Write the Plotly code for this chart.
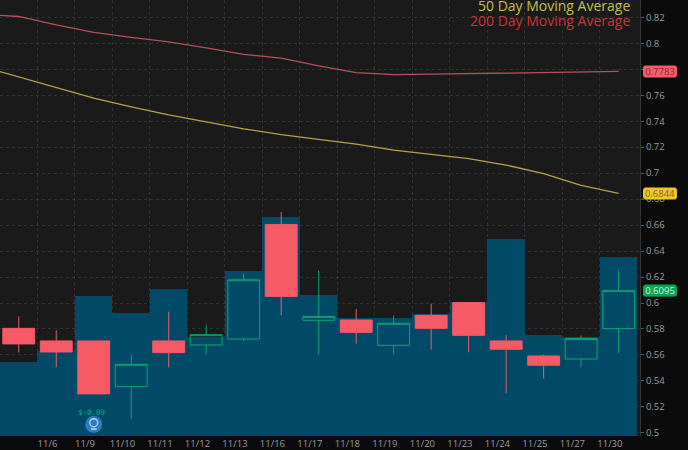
import plotly.graph_objects as go

dates = ["11/5", "11/6", "11/9", "11/10", "11/11", "11/12", "11/13", "11/16", "11/17",
         "11/18", "11/19", "11/20", "11/23", "11/24", "11/25", "11/27", "11/30"]
opens = [0.5805, 0.5708, 0.5708, 0.5356, 0.5708, 0.5677, 0.5723, 0.6605, 0.5867,
         0.5869, 0.5674, 0.5905, 0.6003, 0.5708, 0.5592, 0.5569, 0.5803]
closes = [0.5685, 0.5623, 0.5300, 0.5528, 0.5618, 0.5756, 0.6179, 0.6051, 0.5897,
          0.5774, 0.5844, 0.5805, 0.5751, 0.5644, 0.5521, 0.5726, 0.6095]
highs = [0.5897, 0.5790, 0.5708, 0.5603, 0.5933, 0.5831, 0.6226, 0.6700, 0.6251,
         0.5954, 0.5903, 0.5995, 0.6003, 0.5751, 0.5603, 0.5751, 0.6256]
lows = [0.5620, 0.5505, 0.5300, 0.5103, 0.5505, 0.5603, 0.5705, 0.5903, 0.5603,
        0.5687, 0.5603, 0.5641, 0.5621, 0.5303, 0.5418, 0.5505, 0.5615]
volumes = [221, 255, 419, 368, 443, 297, 497, 658, 424, 353, 353, 367, 401, 592, 303, 297, 538]
ma_index = list(range(-1, 17))
ma50 = [0.7822, 0.7741, 0.7658, 0.7578, 0.7510, 0.7448, 0.7395, 0.7341, 0.7297,
        0.7262, 0.7223, 0.7177, 0.7143, 0.7112, 0.7062, 0.6997, 0.6905, 0.6844]
ma200 = [0.8224, 0.8206, 0.8141, 0.8083, 0.8045, 0.8010, 0.7964, 0.7915, 0.7885,
         0.7825, 0.7774, 0.7758, 0.7762, 0.7766, 0.7769, 0.7775, 0.7782, 0.7783]
price_ticks = [0.5, 0.52, 0.54, 0.56, 0.58, 0.6, 0.62, 0.64, 0.66, 0.68, 0.7, 0.72,
               0.74, 0.76, 0.78, 0.8, 0.82]
price_tick_text = ["0.5", "0.52", "0.54", "0.56", "0.58", "0.6", "0.62", "0.64", "0.66",
                   "0.68", "0.7", "0.72", "0.74", "0.76", "", "0.8", "0.82"]
index = list(range(len(dates)))
boundaries = [i - 0.5 for i in index[1:]]
earnings_index = 2
earnings_label = "$-0.09"
earnings_price = 0.5064

FONT = "Open Sans"
RED, GREEN = "#f55a66", "#0fa56e"

fig = go.Figure()
fig.add_trace(go.Bar(x=index, y=volumes, width=1, marker=dict(color="#004a68", line_width=0),
                     yaxis="y", showlegend=False))
fig.add_trace(go.Candlestick(
    x=index, open=opens, high=highs, low=lows, close=closes, yaxis="y2", whiskerwidth=0,
    increasing=dict(line=dict(color=GREEN, width=1), fillcolor="rgba(0,0,0,0)"),
    decreasing=dict(line=dict(color=RED, width=1), fillcolor=RED), showlegend=False))
fig.add_trace(go.Scatter(x=ma_index, y=ma50, mode="lines", yaxis="y2",
                         line=dict(color="#b8a050", width=1.3), showlegend=False))
fig.add_trace(go.Scatter(x=ma_index, y=ma200, mode="lines", yaxis="y2",
                         line=dict(color="#b8505c", width=1.3), showlegend=False))
# earnings marker
fig.add_trace(go.Scatter(x=[earnings_index], y=[earnings_price], mode="markers", yaxis="y2",
                         marker=dict(size=17, color="#2a7cc4", line_width=0), showlegend=False))
fig.add_trace(go.Scatter(x=[earnings_index], y=[earnings_price + 0.0014], mode="markers", yaxis="y2",
                         marker=dict(size=8, color="rgba(0,0,0,0)", line=dict(color="#b8d4ee", width=1.3)),
                         showlegend=False))
fig.add_trace(go.Scatter(x=[earnings_index], y=[earnings_price - 0.0035], mode="markers", yaxis="y2",
                         marker=dict(size=4, symbol="line-ew", line=dict(color="#b8d4ee", width=1.6)),
                         showlegend=False))

annotations = []
for txt, col, ypx in [("50 Day Moving Average", "#c4bf50", 6), ("200 Day Moving Average", "#c93436", 21)]:
    annotations.append(dict(xref="paper", yref="paper", x=632 / 640, y=1 - ypx / 436.5, xanchor="right",
                            yanchor="middle", text=txt, showarrow=False,
                            font=dict(family=FONT, size=14, color=col)))
annotations.append(dict(x=earnings_index, y=earnings_price, xref="x", yref="y2", yshift=12.5, xshift=-2,
                        text=earnings_label, showarrow=False, yanchor="middle",
                        font=dict(family="DejaVu Sans Mono", size=7.5, color="#12b374")))

shapes = []
for price, bg, fg in [(ma200[-1], "#f85c6a", "#8c2a36"), (ma50[-1], "#eec62e", "#7d6a12"),
                      (closes[-1], "#0aa653", "#cdeedd")]:
    shapes.append(dict(type="path", xref="paper", yref="y2", ysizemode="pixel", yanchor=price,
                       path="M 2,-5.5 H 32 Q 34,-5.5 34,-3.5 V 3.5 Q 34,5.5 32,5.5 H 2 Q 0,5.5 0,3.5 V -3.5 Q 0,-5.5 2,-5.5 Z",
                       xsizemode="pixel", xanchor=643 / 640, fillcolor=bg, line_width=0, layer="above"))
    annotations.append(dict(xref="paper", yref="y2", x=660 / 640, y=price, text=f"{price:.4f}",
                            showarrow=False, xanchor="center", yanchor="middle", bgcolor=bg,
                            width=30, height=11, borderpad=0, align="center",
                            font=dict(family=FONT, size=9.5, color=fg)))

GRID = "rgba(120,120,120,0.25)"
fig.update_layout(
    width=688, height=450, autosize=False,
    margin=dict(l=0, r=48, t=0, b=13.5, pad=0),
    paper_bgcolor="#0b0b0b", plot_bgcolor="#1a1a1a",
    boxgap=0.15, boxgroupgap=0, bargap=0, showlegend=False, hovermode=False,
    xaxis=dict(range=[-0.5, 16.57], tickmode="array", tickvals=boundaries, ticktext=dates[1:],
               ticklabelshift=10, ticks="", showgrid=True, gridcolor=GRID, griddash="dot", gridwidth=1,
               zeroline=False, showline=False, rangeslider=dict(visible=False),
               tickfont=dict(family=FONT, size=9.5, color="#9a9a9a")),
    yaxis=dict(range=[0, 1309.5], visible=False, showgrid=False, zeroline=False),
    yaxis2=dict(range=[0.4976, 0.8333], overlaying="y", side="right", tickmode="array",
                tickvals=price_ticks, ticktext=price_tick_text, showgrid=True, gridcolor=GRID,
                griddash="dot", gridwidth=1, zeroline=False, showline=True, linecolor="#333333",
                linewidth=1, ticks="outside", ticklen=3, tickcolor="#555555",
                tickfont=dict(family=FONT, size=9.5, color="#9a9a9a")),
    annotations=annotations, shapes=shapes,
)
fig.write_html("out.html", config={"displayModeBar": False},
               post_script="document.body.style.margin='0';document.documentElement.style.background='#0b0b0b';document.body.style.overflow='hidden';")
